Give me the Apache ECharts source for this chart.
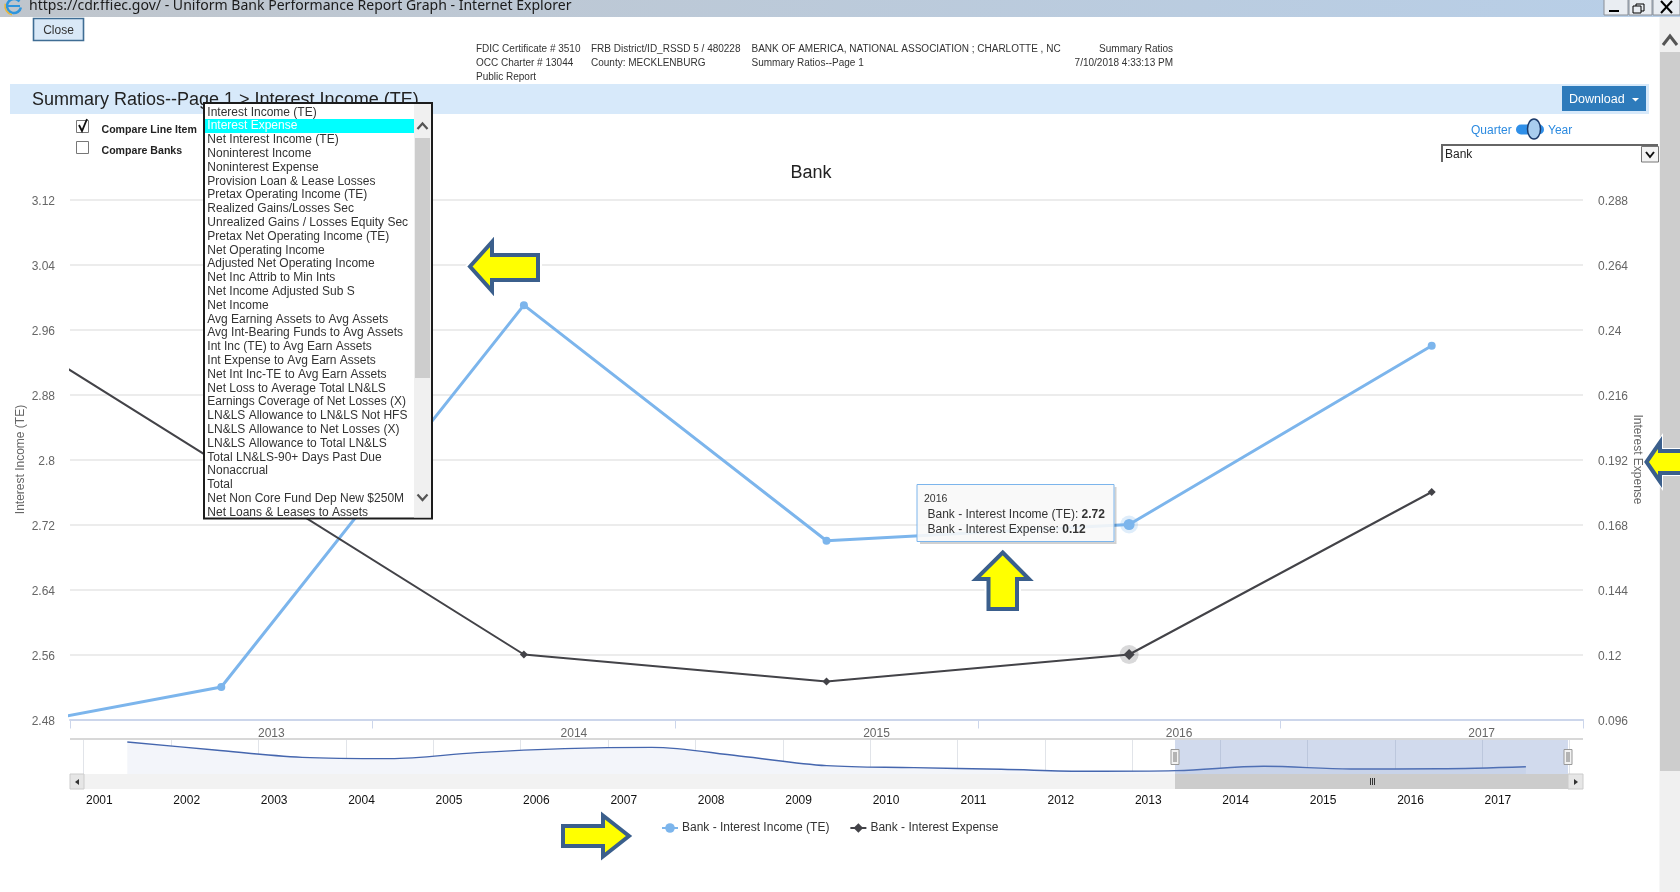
<!DOCTYPE html>
<html>
<head>
<meta charset="utf-8">
<title>Uniform Bank Performance Report Graph</title>
<script src="https://cdn.jsdelivr.net/npm/echarts@6/dist/echarts.min.js"></script>
<style>
  html, body { margin: 0; padding: 0; background: #fff; overflow: hidden; }
  #main { width: 1680px; height: 892px; }
</style>
</head>
<body>
<div id="main"></div>
<script>
// Annual ratios shown in the main plot; 2012 sits just left of the visible window.
const years = [2012, 2013, 2014, 2015, 2016, 2017];
const interestIncome = [2.45, 2.52, 2.99, 2.70, 2.72, 2.94];
const interestExpense = [0.26, 0.19, 0.12, 0.11, 0.12, 0.18];
const visibleYears = ['2013', '2014', '2015', '2016', '2017'];
const hoveredYear = 2016;

// Full history plotted in the range navigator.
const navYears = ['2001', '2002', '2003', '2004', '2005', '2006', '2007', '2008', '2009',
  '2010', '2011', '2012', '2013', '2014', '2015', '2016', '2017'];
const navIncome = [5.62, 4.75, 3.96, 3.82, 4.47, 4.90, 5.04, 4.11, 3.06,
  2.85, 2.67, 2.45, 2.52, 2.99, 2.70, 2.72, 2.94];

const incomeName = 'Bank - Interest Income (TE)';
const expenseName = 'Bank - Interest Expense';

const menuItems = ['Interest Income (TE)', 'Interest Expense', 'Net Interest Income (TE)',
  'Noninterest Income', 'Noninterest Expense', 'Provision Loan & Lease Losses',
  'Pretax Operating Income (TE)', 'Realized Gains/Losses Sec',
  'Unrealized Gains / Losses Equity Sec', 'Pretax Net Operating Income (TE)',
  'Net Operating Income', 'Adjusted Net Operating Income', 'Net Inc Attrib to Min Ints',
  'Net Income Adjusted Sub S', 'Net Income', 'Avg Earning Assets to Avg Assets',
  'Avg Int-Bearing Funds to Avg Assets', 'Int Inc (TE) to Avg Earn Assets',
  'Int Expense to Avg Earn Assets', 'Net Int Inc-TE to Avg Earn Assets',
  'Net Loss to Average Total LN&LS', 'Earnings Coverage of Net Losses (X)',
  'LN&LS Allowance to LN&LS Not HFS', 'LN&LS Allowance to Net Losses (X)',
  'LN&LS Allowance to Total LN&LS', 'Total LN&LS-90+ Days Past Due', 'Nonaccrual', 'Total',
  'Net Non Core Fund Dep New $250M', 'Net Loans & Leases to Assets'];

const SANS = 'Arial, "Liberation Sans", sans-serif';
const el = [];

function rect(x, y, w, h, fill, extra) {
  el.push({ type: 'rect', z: 10, silent: true, shape: { x, y, width: w, height: h },
    style: Object.assign({ fill }, extra || {}) });
}
function label(text, x, y, size, color, extra) {
  el.push({ type: 'text', z: 10, silent: true, x, y: y + 1, style: Object.assign({
    text, fill: color || '#333', font: (size || 12) + 'px ' + SANS,
    textVerticalAlign: 'middle', verticalAlign: 'middle' }, extra || {}) });
}
function stroke(points, color, width) {
  el.push({ type: 'polyline', z: 10, silent: true, shape: { points },
    style: { stroke: color, lineWidth: width || 1, fill: 'none' } });
}
function arrow(points, halo) {
  if (halo !== 0) {
    el.push({ type: 'polygon', z: 10, silent: true, shape: { points },
      style: { fill: '#fff', stroke: '#fff', lineWidth: halo || 8, lineJoin: 'miter' } });
  }
  el.push({ type: 'polygon', z: 10, silent: true, shape: { points },
    style: { fill: '#ffff00', stroke: '#3b5f8c', lineWidth: 4, lineJoin: 'miter' } });
}

// Browser window chrome
rect(0, 0, 1680, 17, new echarts.graphic.LinearGradient(0, 0, 1, 0, [
  { offset: 0, color: '#bfc5cc' }, { offset: 1, color: '#b8cfe8' }]));
el.push({ type: 'arc', z: 10, silent: true, shape: { cx: 14, cy: 6, r: 7, startAngle: 0.2, endAngle: 5.6 },
  style: { stroke: '#2f95dc', lineWidth: 2.5, fill: 'none' } });
el.push({ type: 'arc', z: 10, silent: true, shape: { cx: 14, cy: 6, r: 9, startAngle: 1.8, endAngle: 3.4 },
  style: { stroke: '#e7b53c', lineWidth: 1.5, fill: 'none' } });
stroke([[8, 6], [20, 6]], '#2f95dc', 2);
label('https://cdr.ffiec.gov/ - Uniform Bank Performance Report Graph - Internet Explorer',
  29, 4.5, 14.06, '#1a1a1a', { font: '14.06px "Noto Sans", ' + SANS });
[[1604, 24], [1629, 23], [1653, 27]].forEach(b =>
  rect(b[0], -2, b[1], 17, '#e9edf2', { stroke: '#8a8f96', lineWidth: 1 }));
rect(1609, 10, 10, 2, '#000');
rect(1636, 4, 8, 7, 'none', { stroke: '#000', lineWidth: 1 });
rect(1633, 6, 8, 7, '#e9edf2', { stroke: '#000', lineWidth: 1 });
stroke([[1661, 1], [1672, 13]], '#000', 2);
stroke([[1672, 1], [1661, 13]], '#000', 2);

// Page scrollbar
rect(1659.5, 17, 20.5, 875, '#f0f0f0');
rect(1660, 52, 20, 719, '#cdcdcd');
stroke([[1663, 45], [1670, 36], [1677, 45]], '#555', 3);

// Page header
rect(33.5, 18.5, 50, 22, '#d9e8f7', { stroke: '#3f6d94', lineWidth: 1.6 });
label('Close', 58.5, 29.5, 12, '#333', { align: 'center', textAlign: 'center' });
[['FDIC Certificate # 3510', 476, 48.5], ['FRB District/ID_RSSD 5 / 480228', 591, 48.5],
 ['BANK OF AMERICA, NATIONAL ASSOCIATION ; CHARLOTTE , NC', 751.5, 48.5],
 ['OCC Charter # 13044', 476, 62.7], ['County: MECKLENBURG', 591, 62.7],
 ['Summary Ratios--Page 1', 751.5, 62.7], ['Public Report', 476, 76.7]]
  .forEach(t => label(t[0], t[1], t[2], 10, '#333'));
label('Summary Ratios', 1173, 48.5, 10, '#333', { align: 'right', textAlign: 'right' });
label('7/10/2018 4:33:13 PM', 1173, 62.7, 10, '#333', { align: 'right', textAlign: 'right' });

rect(10, 84, 1639, 30, '#d7e9fa');
label('Summary Ratios--Page 1 > Interest Income (TE)', 32, 99.5, 18, '#222');
rect(1562, 86, 84, 25, '#2e7bbb');
label('Download', 1569, 98.8, 12.5, '#fff');
el.push({ type: 'polygon', z: 10, silent: true, shape: { points: [[1632, 98], [1639, 98], [1635.5, 101.5]] },
  style: { fill: '#fff' } });

// Comparison check boxes
rect(76.5, 120.5, 12, 12, '#fff', { stroke: '#777', lineWidth: 1 });
stroke([[79, 125], [82, 131], [87, 119]], '#111', 1.8);
label('Compare Line Item', 101.5, 129, 10.6, '#222', { font: 'bold 10.6px ' + SANS });
rect(76.5, 141.5, 12, 12, '#fff', { stroke: '#777', lineWidth: 1 });
label('Compare Banks', 101.5, 150, 10.6, '#222', { font: 'bold 10.6px ' + SANS });

// Period switch and bank selector
label('Quarter', 1471, 129.8, 12, '#2b8ae0');
label('Year', 1548, 129.8, 12, '#2b8ae0');
rect(1516, 124.5, 28, 10, '#2f8fe8', { });
el[el.length - 1].shape.r = 5;
el.push({ type: 'ellipse', z: 10, silent: true, shape: { cx: 1534, cy: 129, rx: 6.5, ry: 10 },
  style: { fill: '#a9cdee', stroke: '#1c3b6b', lineWidth: 1.5 } });
rect(1441.5, 144, 217, 18, '#fff');
stroke([[1442, 162], [1442, 145], [1658, 145]], '#666', 2);
label('Bank', 1445, 153.5, 12, '#222');
rect(1641.5, 146.5, 17, 15.5, '#f4f4f4', { stroke: '#777', lineWidth: 1 });
stroke([[1646, 152], [1650, 157], [1654, 152]], '#111', 2);

// Navigator frame: plot border, scrollbar track and selection
rect(70, 738, 1513, 2, '#d8d8d8');
rect(70, 774, 1513, 15, '#f2f2f2');
rect(70, 774, 14, 15, '#e6e6e6', { stroke: '#cccccc', lineWidth: 1 });
el.push({ type: 'polygon', z: 10, silent: true, shape: { points: [[79, 779], [79, 785], [75, 782]] }, style: { fill: '#333' } });
rect(1175, 740, 393, 34, 'rgba(102,133,194,0.3)');
rect(1175, 774, 393, 15, '#cccccc');
rect(1568, 774, 15, 15, '#e6e6e6', { stroke: '#cccccc', lineWidth: 1 });
el.push({ type: 'polygon', z: 10, silent: true, shape: { points: [[1574, 779], [1574, 785], [1578, 782]] }, style: { fill: '#333' } });
[1370, 1372, 1374].forEach(x => rect(x, 778, 1, 7, '#333'));
[1175, 1568].forEach(x => {
  rect(x - 4, 749.5, 8, 15, '#f2f2f2', { stroke: '#999', lineWidth: 1 });
  rect(x - 1.5, 752, 1, 10, '#777');
  rect(x + 0.5, 752, 1, 10, '#777');
});

// Pinned tooltip for the hovered year, filled from the data arrays
const hi = years.indexOf(hoveredYear);
stroke([[1115.5, 487], [1115.5, 543], [920, 543]], 'rgba(0,0,0,0.18)', 2);
rect(917, 484.5, 197, 57, 'rgba(248,248,248,0.9)', { stroke: '#7cb5ec', lineWidth: 1 });
label(String(hoveredYear), 924, 498.5, 10.5, '#333');
function tipLine(name, value, y) {
  el.push({ type: 'text', z: 10, silent: true, x: 927.5, y, style: {
    text: '{a|' + name + ': }{b|' + value + '}', verticalAlign: 'middle', textVerticalAlign: 'middle',
    rich: { a: { font: '12px ' + SANS, fill: '#333', color: '#333' },
            b: { font: 'bold 12px ' + SANS, fill: '#333', color: '#333' } } } });
}
tipLine(incomeName, interestIncome[hi].toFixed(2), 514.5);
tipLine(expenseName, interestExpense[hi].toFixed(2), 529.5);

// Annotation arrows
arrow([[470, 266.5], [492, 242], [492, 255], [538, 255], [538, 280], [492, 280], [492, 291]]);
arrow([[1002.7, 552.5], [1029, 579], [1017, 579], [1017, 609], [988.5, 609], [988.5, 579], [976, 579]]);
arrow([[563, 826], [603, 826], [603, 815.5], [629, 836], [603, 856.5], [603, 846], [563, 846]]);
arrow([[1646.5, 462], [1660, 442.5], [1660, 451], [1684, 451], [1684, 473], [1660, 473], [1660, 481.5]], 6);

// Metric picker, drawn over the plot
rect(204, 103, 228, 415.5, '#fff', { stroke: '#1c1c1c', lineWidth: 2 });
rect(414, 104, 17, 413.5, '#f0f0f0');
rect(415, 138, 15, 240, '#cdcdcd');
rect(205, 119, 209, 14, '#00ffff');
stroke([[417.5, 129], [422.5, 123.5], [427.5, 129]], '#555', 2.2);
stroke([[417.5, 494.5], [422.5, 500], [427.5, 494.5]], '#555', 2.2);
menuItems.forEach((m, i) => label(m, 207.3, 111.3 + 13.8 * i, 12, i === 1 ? '#fff' : '#333'));

const hoverIndex = years.indexOf(hoveredYear);
const pointStyle = (values, size) => years.map((y, i) => y === hoveredYear
  ? { value: [y, values[i]], symbolSize: size }
  : { value: [y, values[i]] });

const axisText = { color: '#666', fontFamily: SANS, fontSize: 12 };
// Value labels sit slightly below their gridlines.
const valueLabel = Object.assign({ margin: 15, verticalAlign: 'top', lineHeight: 4 }, axisText);

const option = {
  animation: false,
  backgroundColor: '#fff',
  title: { text: 'Bank', left: 806, top: 159, textAlign: 'center',
    textStyle: { fontFamily: SANS, fontSize: 18, fontWeight: 'normal', color: '#222' } },
  legend: { left: 656, top: 817, itemWidth: 16, itemHeight: 12, itemGap: 20, data: [incomeName, expenseName],
    textStyle: { fontFamily: SANS, fontSize: 12, color: '#333', padding: [0, 0, 0, -1] } },
  grid: [
    { left: 70, top: 199.5, width: 1513, height: 520 },
    { left: 83.6, top: 739, width: 1486, height: 35 }
  ],
  xAxis: [
    { type: 'category', gridIndex: 0, data: visibleYears, boundaryGap: true,
      axisLine: { lineStyle: { color: '#ccd6eb', width: 2 } },
      axisTick: { show: true, length: 9, lineStyle: { color: '#ccd6eb' } },
      axisLabel: Object.assign({ margin: 8.5, padding: [0, 0, 0, 100], interval: 0 }, axisText),
      splitLine: { show: false } },
    { type: 'value', gridIndex: 0, min: 2012.5, max: 2017.5, show: false },
    { type: 'category', gridIndex: 1, data: navYears, boundaryGap: true,
      axisLine: { show: false }, axisTick: { show: false },
      axisLabel: { margin: 21, padding: [0, 56, 0, 0], color: '#111', fontFamily: SANS, fontSize: 12, interval: 0 },
      splitLine: { show: true, interval: 0, lineStyle: { color: '#e1e4e9', width: 1 } } }
  ],
  yAxis: [
    { type: 'value', gridIndex: 0, min: 2.48, max: 3.12, interval: 0.08,
      name: 'Interest Income (TE)', nameLocation: 'middle', nameGap: 43.5, nameRotate: 90, nameMoveOverlap: false,
      nameTextStyle: axisText,
      axisLine: { show: false }, axisTick: { show: false },
      axisLabel: valueLabel,
      splitLine: { lineStyle: { color: '#e6e6e6', width: 1.5 } } },
    { type: 'value', gridIndex: 0, position: 'right', min: 0.096, max: 0.288, interval: 0.024,
      name: 'Interest Expense', nameLocation: 'middle', nameGap: 48, nameRotate: -90, nameMoveOverlap: false,
      nameTextStyle: axisText,
      axisLine: { show: false }, axisTick: { show: false },
      axisLabel: valueLabel,
      splitLine: { show: false } },
    { type: 'value', gridIndex: 1, min: 2.16, max: 5.94, show: false, splitLine: { show: false } }
  ],
  series: [
    // Hover halos sit beneath the lines at the highlighted year.
    { name: 'Income halo', type: 'scatter', xAxisIndex: 1, yAxisIndex: 0, z: 1, silent: true,
      data: [[hoveredYear, interestIncome[hoverIndex]]], symbolSize: 18,
      itemStyle: { color: 'rgba(124,181,236,0.3)' } },
    { name: 'Expense halo', type: 'scatter', xAxisIndex: 1, yAxisIndex: 1, z: 1, silent: true,
      data: [[hoveredYear, interestExpense[hoverIndex]]], symbolSize: 19,
      itemStyle: { color: 'rgba(67,67,72,0.25)' } },
    { name: incomeName, type: 'line', xAxisIndex: 1, yAxisIndex: 0, clip: true,
      data: pointStyle(interestIncome, 11),
      symbol: 'circle', symbolSize: 8, showAllSymbol: true,
      itemStyle: { color: '#7cb5ec' }, lineStyle: { color: '#7cb5ec', width: 3 } },
    { name: expenseName, type: 'line', xAxisIndex: 1, yAxisIndex: 1, clip: true,
      data: pointStyle(interestExpense, 11),
      symbol: 'diamond', symbolSize: 8, showAllSymbol: true,
      itemStyle: { color: '#434348' }, lineStyle: { color: '#434348', width: 2 } },
    { name: 'Navigator', type: 'line', xAxisIndex: 2, yAxisIndex: 2, data: navIncome,
      smooth: 0.35, symbol: 'none', lineStyle: { color: '#4566ae', width: 1.4 },
      areaStyle: { color: '#f3f5fa', opacity: 1 } }
  ],
  graphic: { elements: el }
};

echarts.init(document.getElementById('main')).setOption(option);
</script>
</body>
</html>
